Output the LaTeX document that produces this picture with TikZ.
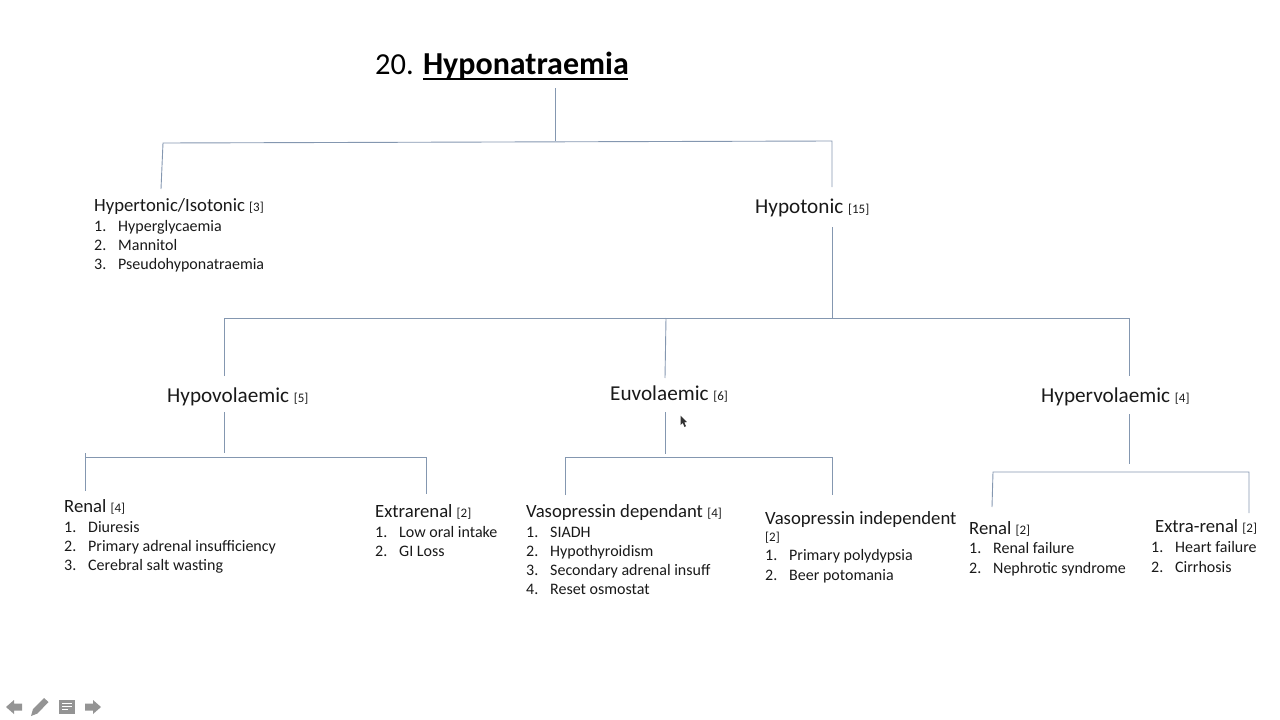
\documentclass[tikz,border=0pt]{standalone}
\usepackage{fontspec}
\setmainfont{Carlito}
\usetikzlibrary{positioning}

\definecolor{linkcol}{HTML}{8497B0}
\newcommand{\num}[1]{\makebox[24pt][l]{#1.}}
\newcommand{\cnt}[1]{{\fontsize{13}{15}\selectfont [#1]}}

\begin{document}
\begin{tikzpicture}[
  x=1pt, y=-1pt,
  head/.style={anchor=base west, inner sep=0pt, font=\fontsize{18.7}{22}\selectfont, text=black!90},
  bighead/.style={head, font=\fontsize{21.2}{25}\selectfont},
  items/.style={anchor=north west, inner sep=0pt, align=left, font=\fontsize{16}{19.3}\selectfont, text=black!90},
  link/.style={draw=linkcol, line width=0.9pt},
  icon/.style={fill=black!42, draw=none}
]
\useasboundingbox (0,0) rectangle (1280,720);

% title
\node[anchor=base west, inner sep=0pt, font=\fontsize{30.5}{36}\selectfont, text=black] (title) at (375,74) {20. {\fontsize{32}{36}\selectfont\bfseries\rlap{\rule[-5.6pt]{205pt}{1.8pt}}Hyponatraemia}};

% first level
\node[head] (hyper) at (94,211) {Hypertonic/Isotonic \cnt{3}};
\node[items] (hyperlist) at (94,220) {\num{1}Hyperglycaemia\\\num{2}Mannitol\\\num{3}Pseudohyponatraemia};
\node[bighead] (hypo) at (755,213) {Hypotonic \cnt{15}};

% second level
\node[bighead] (hypov) at (167,402) {Hypovolaemic \cnt{5}};
\node[bighead] (euv) at (610,400) {Euvolaemic \cnt{6}};
\node[bighead] (hyperv) at (1041,402) {Hypervolaemic \cnt{4}};

% third level
\node[head] (renal) at (64,512) {Renal \cnt{4}};
\node[items] (renallist) at (64,521) {\num{1}Diuresis\\\num{2}Primary adrenal insufficiency\\\num{3}Cerebral salt wasting};
\node[head] (extra) at (375,517) {Extrarenal \cnt{2}};
\node[items] (extralist) at (375,526) {\num{1}Low oral intake\\\num{2}GI Loss};
\node[head] (vdep) at (526,517) {Vasopressin dependant \cnt{4}};
\node[items] (vdeplist) at (526,526.5) {\num{1}SIADH\\\num{2}Hypothyroidism\\\num{3}Secondary adrenal insuff\\\num{4}Reset osmostat};
\node[head] (vind) at (765,524) {Vasopressin independent};
\node[anchor=base west, inner sep=0pt, text=black!90] (vindcnt) at (765,541) {\cnt{2}};
\node[items] (vindlist) at (765,549.5) {\num{1}Primary polydypsia\\\num{2}Beer potomania};
\node[head] (renal2) at (969,534) {Renal \cnt{2}};
\node[items] (renal2list) at (969,542.5) {\num{1}Renal failure\\\num{2}Nephrotic syndrome};
\node[head] (extra2) at (1155,532.5) {Extra-renal \cnt{2}};
\node[items] (extra2list) at (1151,541.5) {\num{1}Heart failure\\\num{2}Cirrhosis};

% ends and joints of the tree
\coordinate (t0) at (555.5,88);
\coordinate (t1) at (555.5,141);
\coordinate (b1l) at (163,143);
\coordinate (b1r) at (832,141);
\coordinate (d1l) at (161,189);
\coordinate (d1r) at (832,187);
\coordinate (h0) at (832,227);
\coordinate (h1) at (832,318);
\coordinate (b2l) at (224,318);
\coordinate (b2m) at (666,318);
\coordinate (b2r) at (1129,318);
\coordinate (d2l) at (224,376);
\coordinate (d2m) at (665,378);
\coordinate (d2r) at (1129,376);
\coordinate (v0) at (224,412);
\coordinate (v1) at (224,453);
\coordinate (b3l) at (85,457);
\coordinate (b3lt) at (85,453);
\coordinate (b3r) at (426,457);
\coordinate (d3l) at (85,491);
\coordinate (d3r) at (426,494);
\coordinate (e0) at (665,412);
\coordinate (e1) at (665,454);
\coordinate (b4l) at (565,457);
\coordinate (b4r) at (832,457);
\coordinate (d4l) at (565,495);
\coordinate (d4r) at (832,495);
\coordinate (w0) at (1129,414);
\coordinate (w1) at (1129,464);
\coordinate (b5l) at (993,472);
\coordinate (b5r) at (1249,472);
\coordinate (d5l) at (992,507);
\coordinate (d5r) at (1249,513);

\draw[link] (t0) -- (t1);
\draw[link] (d1l) -- (b1l) -- (b1r) -- (d1r);
\draw[link] (h0) -- (h1);
\draw[link] (d2l) -- (b2l) -- (b2r) -- (d2r);
\draw[link] (b2m) -- (d2m);
\draw[link] (v0) -- (v1);
\draw[link] (b3lt) -- (d3l);
\draw[link] (b3l) -- (b3r) -- (d3r);
\draw[link] (e0) -- (e1);
\draw[link] (d4l) -- (b4l) -- (b4r) -- (d4r);
\draw[link] (w0) -- (w1);
\draw[link] (d5l) -- (b5l) -- (b5r) -- (d5r);

% mouse pointer
\fill[black!80] (680.5,415.5) -- (680.5,425) -- (682.8,423) -- (684.5,427) -- (686,426.2) -- (684.3,422.4) -- (686.8,422) -- cycle;

% slide show buttons
\fill[icon] (6,707) -- (14,700) -- (14,703.5) -- (22,703.5) -- (22,710.5) -- (14,710.5) -- (14,714) -- cycle;
\fill[icon] (31,716) -- (33,709) -- (44,698) -- (48.5,702) -- (37.5,713.5) -- cycle;
\fill[icon] (59,700) rectangle (75,714);
\draw[white, line width=0.8pt] (62,703.5) -- (72,703.5) (62,706.5) -- (72,706.5) (62,709.5) -- (68,709.5);
\fill[icon] (101,707) -- (93,700) -- (93,703.5) -- (85,703.5) -- (85,710.5) -- (93,710.5) -- (93,714) -- cycle;

\end{tikzpicture}
\end{document}
